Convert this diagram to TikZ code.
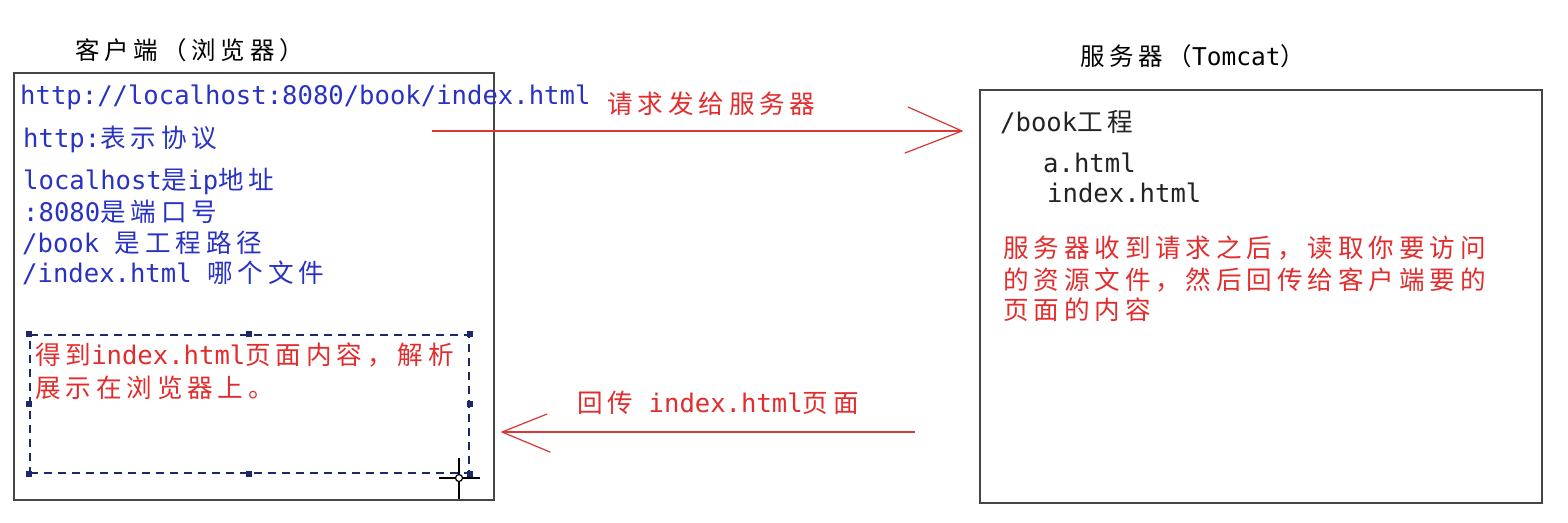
\documentclass[tikz,border=0pt]{standalone}
\usepackage{fontspec}
\setmainfont{DejaVu Sans Mono}
\newfontfamily\cjkfont{Noto Sans CJK SC}[LetterSpace=19]
\newcommand{\zh}[1]{{\cjkfont #1}}
\definecolor{txtblue}{RGB}{40,50,195}
\definecolor{txtred}{RGB}{225,45,45}
\definecolor{txtblack}{RGB}{35,35,35}
\definecolor{boxgray}{RGB}{70,70,70}
\definecolor{selnavy}{RGB}{30,40,105}
\definecolor{arrred}{RGB}{220,55,55}
\begin{document}
\begin{tikzpicture}[x=1pt,y=-1pt,
  txt/.style={anchor=base west, inner sep=0pt, font=\fontsize{25.6}{31}\selectfont},
  bluetxt/.style={txt, text=txtblue},
  redtxt/.style={txt, text=txtred},
  blacktxt/.style={txt, text=txtblack},
  titletxt/.style={anchor=base west, inner sep=0pt, font=\fontsize{24.5}{28}\selectfont, text=black},
  panel/.style={draw=boxgray, line width=2pt, anchor=north west, inner sep=0pt},
  selbox/.style={draw=selnavy, line width=1.8pt, dash pattern=on 8pt off 6pt, anchor=north west, inner sep=0pt},
  handle/.style={fill=selnavy, draw=none, minimum size=6pt, inner sep=0pt},
  flow/.style={draw=arrred, line width=1.8pt},
  barb/.style={draw=arrred, line width=1.2pt, line cap=round},
]
\useasboundingbox[fill=white] (0,0) rectangle (1568,522);

% titles
\node[titletxt] (clientTitle) at (75,59) {\zh{客户端（浏览器）}};
\node[titletxt] (serverTitle) at (1080,65) {\zh{服务器（}Tomcat\zh{）}};

% panels
\node[panel, minimum width=480pt, minimum height=427pt] (client) at (13,72) {};
\node[panel, minimum width=562pt, minimum height=413pt] (server) at (979,89) {};

% client texts
\node[bluetxt] (url) at (20,104) {http://localhost:8080/book/index.html};
\node[bluetxt] (l1) at (23,147) {http:\zh{表示协议}};
\node[bluetxt] (l2) at (23,189) {localhost\zh{是}ip\zh{地址}};
\node[bluetxt] (l3) at (23,221) {:8080\zh{是端口号}};
\node[bluetxt] (l4) at (22,252) {/book \zh{是工程路径}};
\node[bluetxt] (l5) at (22,282) {/index.html \zh{哪个文件}};

% selection box
\node[selbox, minimum width=439pt, minimum height=138pt] (sel) at (29,334) {};
\foreach \a in {north west,north,north east,west,east,south west,south,south east}
  \node[handle] at (sel.\a) {};
\node[redtxt] (r1) at (35,364) {\zh{得到}index.html\zh{页面内容，解析}};
\node[redtxt] (r2) at (35,397) {\zh{展示在浏览器上。}};

% cursor
\coordinate (cur) at (459,478);
\draw[black, line width=1.8pt] (cur) ++(-20,0) -- ++(41,0);
\draw[black, line width=1.8pt] (cur) ++(0,-20) -- ++(0,41);
\draw[black, line width=1.2pt, fill=white] (cur) circle (3.5pt);

% server texts
\node[blacktxt] (proj) at (1000,131) {/book\zh{工程}};
\node[blacktxt] (fa) at (1043,172) {a.html};
\node[blacktxt] (fi) at (1047,202) {index.html};
\node[redtxt] (s1) at (1003,257) {\zh{服务器收到请求之后，读取你要访问}};
\node[redtxt] (s2) at (1003,289) {\zh{的资源文件，然后回传给客户端要的}};
\node[redtxt] (s3) at (1003,319) {\zh{页面的内容}};

% request arrow
\coordinate (reqStart) at (432,131);
\coordinate (reqTip) at (962,131);
\draw[flow] (reqStart) -- (reqTip);
\draw[barb] (reqTip) -- ++(-54,-24);
\draw[barb] (reqTip) -- ++(-57,22);
\node[redtxt] (reqLabel) at (607,113) {\zh{请求发给服务器}};

% response arrow
\coordinate (respStart) at (915,432);
\coordinate (respTip) at (502,432);
\draw[flow] (respStart) -- (respTip);
\draw[barb] (respTip) -- ++(45,-18);
\draw[barb] (respTip) -- ++(48,20);
\node[redtxt] (respLabel) at (577,412) {\zh{回传} index.html\zh{页面}};
\end{tikzpicture}
\end{document}
